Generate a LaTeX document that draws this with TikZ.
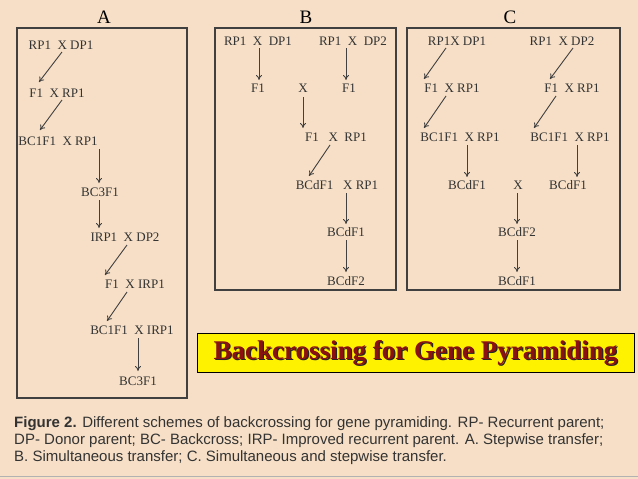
\documentclass[tikz,border=0pt]{standalone}
\usetikzlibrary{arrows.meta}
\usepackage{fontspec}
\setmainfont{Liberation Serif}
\newfontfamily\capfont{Liberation Sans}
\begin{document}
\begin{tikzpicture}[x=1pt,y=-1pt,
  t/.style={font=\fontsize{13}{14}\selectfont, text=black!80, inner sep=1pt},
  ar/.style={draw=black!75, line width=0.9pt, -{To[length=5pt,width=6pt]}},
  panel/.style={draw=black!75, line width=1.4pt},
  ttl/.style={font=\fontsize{19}{20}\selectfont}]
\definecolor{bg}{HTML}{F6DFC6}
\definecolor{tred}{HTML}{8B1010}
\fill[bg] (0,0) rectangle (638,479);
\useasboundingbox (0,0) rectangle (638,479);
\draw[black!30] (0,476) -- (638,476);
% panels
\draw[panel] (17,28) rectangle (187,398);
\draw[panel] (215,28) rectangle (396,290);
\draw[panel] (407,28) rectangle (620,290);
\node[ttl] (tA) at (104,17) {A};
\node[ttl] (tB) at (306,17) {B};
\node[ttl] (tC) at (510,17) {C};
% Panel A
\node[t] (a1) at (61,45) {RP1\ \ X DP1};
\node[t] (a2) at (57,93) {F1\ \ X RP1};
\node[t] (a3) at (58,141) {BC1F1\ \ X RP1};
\node[t] (a4) at (100,192) {BC3F1};
\node[t] (a5) at (125,237) {IRP1\ \ X DP2};
\node[t] (a6) at (135,284) {F1\ \ X IRP1};
\node[t] (a7) at (132,330) {BC1F1\ \ X IRP1};
\node[t] (a8) at (138,381) {BC3F1};
\coordinate (a1s) at (62,52); \coordinate (a1e) at (39,82);
\coordinate (a2s) at (62,100); \coordinate (a2e) at (40,130);
\coordinate (a3s) at (99,149); \coordinate (a3e) at (99,183);
\coordinate (a4s) at (99,200); \coordinate (a4e) at (99,228);
\coordinate (a5s) at (127,245); \coordinate (a5e) at (105,275);
\coordinate (a6s) at (127,292); \coordinate (a6e) at (107,321);
\coordinate (a7s) at (138,338); \coordinate (a7e) at (138,371);
\foreach \i in {1,...,7} \draw[ar] (a\i s) -- (a\i e);
% Panel B
\node[t] (b1) at (258,41) {RP1\ \ X\ \ DP1};
\node[t] (b2) at (353,41) {RP1\ \ X\ \ DP2};
\node[t] (b3) at (258,88) {F1};
\node[t] (b4) at (303,88) {X};
\node[t] (b5) at (349,88) {F1};
\node[t] (b6) at (336,137) {F1\ \ \ X\ \ RP1};
\node[t] (b7) at (337,185) {BCdF1\ \ \ X RP1};
\node[t] (b8) at (346,232) {BCdF1};
\node[t] (b9) at (346,281) {BCdF2};
\coordinate (b1s) at (259,48); \coordinate (b1e) at (259,80);
\coordinate (b2s) at (346,48); \coordinate (b2e) at (346,80);
\coordinate (b3s) at (303,97); \coordinate (b3e) at (303,128);
\coordinate (b4s) at (330,145); \coordinate (b4e) at (309,176);
\coordinate (b5s) at (346,193); \coordinate (b5e) at (346,224);
\coordinate (b6s) at (346,240); \coordinate (b6e) at (346,272);
\foreach \i in {1,...,6} \draw[ar] (b\i s) -- (b\i e);
% Panel C
\node[t] (c1) at (457,41) {RP1X DP1};
\node[t] (c2) at (562,41) {RP1\ \ X DP2};
\node[t] (c3) at (452,88) {F1\ \ X RP1};
\node[t] (c4) at (572,88) {F1\ \ X RP1};
\node[t] (c5) at (460,137) {BC1F1\ \ X RP1};
\node[t] (c6) at (570,137) {BC1F1\ \ X RP1};
\node[t] (c7) at (467,185) {BCdF1};
\node[t] (c8) at (518,185) {X};
\node[t] (c9) at (568,185) {BCdF1};
\node[t] (c10) at (517,232) {BCdF2};
\node[t] (c11) at (517,281) {BCdF1};
\coordinate (c1s) at (446,48); \coordinate (c1e) at (424,79);
\coordinate (c2s) at (573,48); \coordinate (c2e) at (550,79);
\coordinate (c3s) at (446,96); \coordinate (c3e) at (424,128);
\coordinate (c4s) at (556,96); \coordinate (c4e) at (534,128);
\coordinate (c5s) at (467,145); \coordinate (c5e) at (467,177);
\coordinate (c6s) at (577,145); \coordinate (c6e) at (577,177);
\coordinate (c7s) at (517,193); \coordinate (c7e) at (517,224);
\coordinate (c8s) at (517,240); \coordinate (c8e) at (517,272);
\foreach \i in {1,...,8} \draw[ar] (c\i s) -- (c\i e);
% title box
\node[draw=black, line width=0.8pt, fill=yellow, minimum width=437pt, minimum height=39pt] (box) at (415.5,352.5) {};
\node[font=\bfseries\fontsize{27}{28}\selectfont, text=black!85] (shadow) at (416.8,354) {Backcrossing for Gene Pyramiding};
\node[font=\bfseries\fontsize{27}{28}\selectfont, text=tred] (title) at (415.5,352.5) {Backcrossing for Gene Pyramiding};
% caption
\node[anchor=west, font=\capfont\fontsize{15}{17}\selectfont, text=black!80, align=left, inner sep=0pt] (cap) at (14,441)
{\textbf{Figure 2.} Different schemes of backcrossing for gene pyramiding. RP- Recurrent parent;\\
DP- Donor parent; BC- Backcross; IRP- Improved recurrent parent. A. Stepwise transfer;\\
B. Simultaneous transfer; C. Simultaneous and stepwise transfer.};
\end{tikzpicture}
\end{document}
